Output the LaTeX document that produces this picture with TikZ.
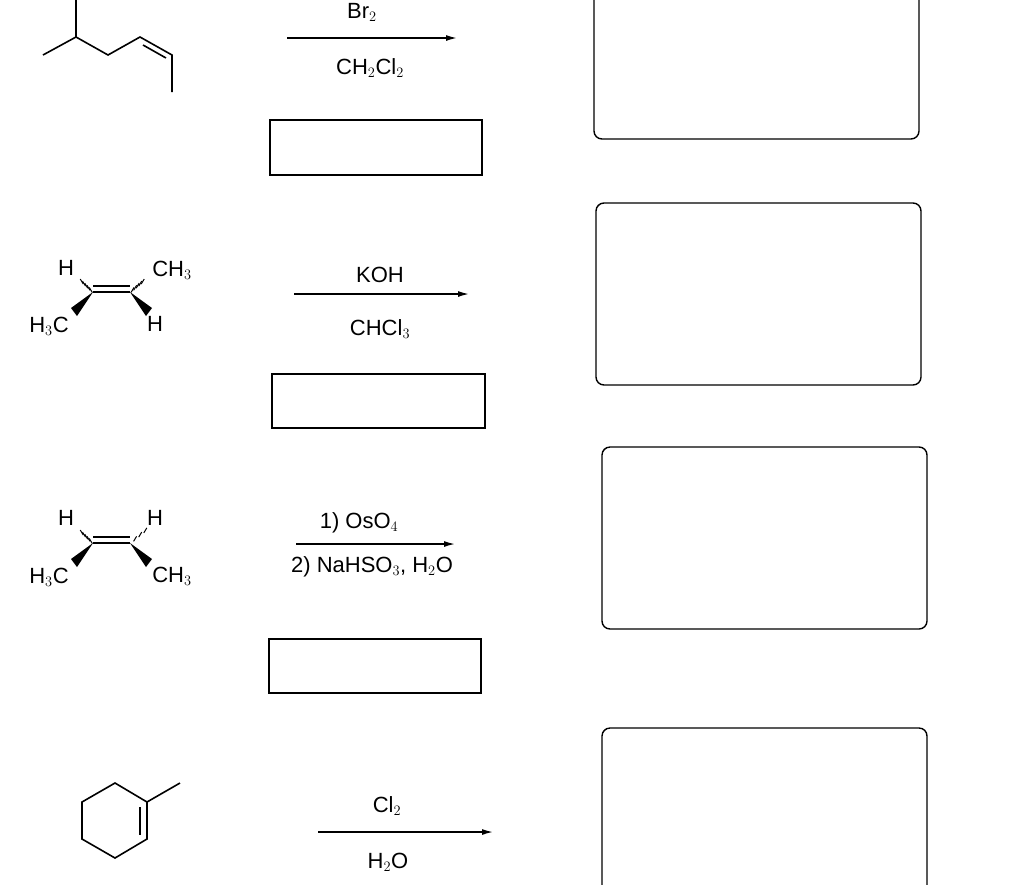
\documentclass[tikz,border=0pt]{standalone}
\usepackage{fontspec}
\setmainfont{Liberation Sans}
\usetikzlibrary{arrows.meta,calc}
\begin{document}
\begin{tikzpicture}[x=1pt,y=-1pt,line width=1.6pt,
  lbl/.style={font=\fontsize{22}{24}\selectfont,inner sep=0pt},
  rxn/.style={-{Latex[length=11pt,width=6pt]},line width=1.4pt},
  ansbox/.style={draw,line width=1.4pt},
  bigbox/.style={draw,line width=1.4pt,rounded corners=8pt}]
\useasboundingbox (0,0) rectangle (1024,884);
% molecule 1
\draw (76,0) -- (76,37) -- (43,55);
\draw (76,37) -- (108,55) -- (140,37) -- (172,55) -- (172,92);
\draw (143,45) -- (166,58);
% molecule 2
\coordinate (a1) at (93,292); \coordinate (a2) at (130,292);
\draw (93,286) -- (130,286); \draw (a1) -- (a2);
\node[lbl] (h1) at (66,268) {H};
\node[lbl] (m1) at (172,270) {CH$_3$};
\node[lbl] (m2) at (49,326) {H$_3$C};
\node[lbl] (h2) at (155,324) {H};
\foreach \t in {0.15,0.3,...,0.9} \draw[line width=1pt] ($(a1)!\t!(78,278)+(-1.5,-2.5)$) -- ($(a1)!\t!(78,278)+(1.5,2.5)$);
\fill (a1) -- (71,308) -- (77,316) -- cycle;
\foreach \t in {0.15,0.3,...,0.9} \draw[line width=1pt] ($(a2)!\t!(147,278)+(1.5,-2.5)$) -- ($(a2)!\t!(147,278)+(-1.5,2.5)$);
\fill (a2) -- (152,308) -- (146,316) -- cycle;
% molecule 3
\coordinate (b1) at (93,543); \coordinate (b2) at (130,543);
\draw (93,537) -- (130,537); \draw (b1) -- (b2);
\node[lbl] (h3) at (66,518) {H};
\node[lbl] (h4) at (155,518) {H};
\node[lbl] (m3) at (49,577) {H$_3$C};
\node[lbl] (m4) at (172,576) {CH$_3$};
\foreach \t in {0.15,0.3,...,0.9} \draw[line width=1pt] ($(b1)!\t!(78,529)+(-1.5,-2.5)$) -- ($(b1)!\t!(78,529)+(1.5,2.5)$);
\fill (b1) -- (71,559) -- (77,567) -- cycle;
\foreach \t in {0.3,0.6,0.9} \draw[line width=1pt] ($(b2)!\t!(147,529)+(1.5,-2.5)$) -- ($(b2)!\t!(147,529)+(-1.5,2.5)$);
\fill (b2) -- (152,559) -- (146,567) -- cycle;
% cyclohexene
\draw (115,783) -- (147,802) -- (147,839) -- (115,858) -- (82,839) -- (82,802) -- cycle;
\draw (147,802) -- (180,783);
\draw (140,807) -- (140,835);
% reactions
\coordinate (r1a) at (287,38); \coordinate (r1b) at (457,38);
\draw[rxn] (r1a) -- (r1b);
\node[lbl] (br) at (362,12) {Br$_2$};
\node[lbl] (s1) at (370,68) {CH$_2$Cl$_2$};
\coordinate (r2a) at (294,294); \coordinate (r2b) at (469,294);
\draw[rxn] (r2a) -- (r2b);
\node[lbl] (koh) at (380,275) {KOH};
\node[lbl] (s2) at (380,329) {CHCl$_3$};
\coordinate (r3a) at (296,544); \coordinate (r3b) at (455,544);
\draw[rxn] (r3a) -- (r3b);
\node[lbl] (o1) at (359,523) {1) OsO$_4$};
\node[lbl] (o2) at (372,567) {2) NaHSO$_3$, H$_2$O};
\coordinate (r4a) at (318,832); \coordinate (r4b) at (493,832);
\draw[rxn] (r4a) -- (r4b);
\node[lbl] (cl) at (387,806) {Cl$_2$};
\node[lbl] (w) at (388,862) {H$_2$O};
% boxes
\draw[ansbox] (270,120) rectangle (482,175);
\draw[ansbox] (272,374) rectangle (485,428);
\draw[ansbox] (269,639) rectangle (481,693);
\draw[bigbox] (594,-20) rectangle (919,139);
\draw[bigbox] (596,203) rectangle (921,385);
\draw[bigbox] (602,447) rectangle (927,629);
\draw[bigbox] (602,728) rectangle (927,920);
\end{tikzpicture}
\end{document}
